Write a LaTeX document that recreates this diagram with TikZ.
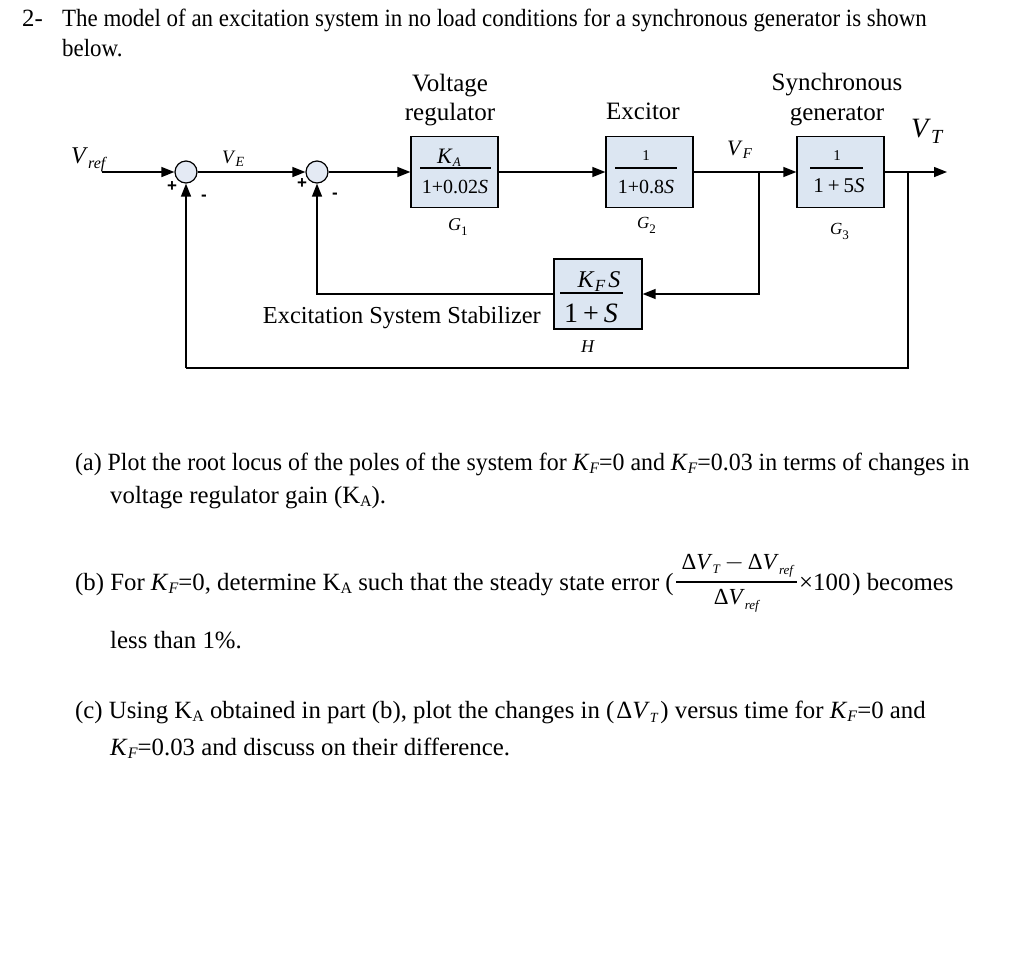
\documentclass[tikz,border=0pt]{standalone}
\usepackage{fontspec}
\usepackage{graphicx}
\setmainfont{Liberation Serif}
\newfontfamily\sansb{Liberation Sans}[BoldFont={Liberation Sans Bold}]
\usetikzlibrary{arrows.meta}
\definecolor{boxblue}{RGB}{220,230,242}
\definecolor{sumblue}{RGB}{228,234,244}
\newcommand{\fs}[1]{\fontsize{#1}{#1}\selectfont}
\newcommand{\Kit}[1]{\textit{K}\raisebox{-3pt}{\fs{16}\textit{#1}}}
\newcommand{\Kup}[1]{K\raisebox{-3pt}{\fs{16}#1}}
\begin{document}
\begin{tikzpicture}[x=1pt,y=-1pt,
  blk/.style={draw, fill=boxblue, line width=1.3pt, minimum width=87pt, minimum height=71pt, inner sep=0pt},
  sumc/.style={circle, draw, fill=sumblue, line width=1.2pt, minimum size=22pt, inner sep=0pt},
  arr/.style={-{Triangle[length=13pt,width=10pt]}},
  wire/.style={line width=1.4pt},
  body/.style={anchor=base west, inner sep=0pt, font=\fs{24.8}},
  lbl/.style={anchor=base, inner sep=0pt, font=\fs{25}},
  sign/.style={inner sep=0pt, font=\sansb\bfseries\fs{17}},
  bar/.style={line width=1.1pt},
]
\useasboundingbox (0,0) rectangle (1024,962);
\fill[white] (0,0) rectangle (1024,962);

% ---------- header text ----------
\node[body] (t0) at (22,26) {2-};
\node[body] (t1) at (62,26) {\scalebox{0.925}[1]{The model of an excitation system in no load conditions for a synchronous generator is shown}};
\node[body] (t2) at (62,56) {\scalebox{0.925}[1]{below.}};

% ---------- block labels ----------
\node[lbl] (lv1) at (450,91) {Voltage};
\node[lbl] (lv2) at (450,120) {regulator};
\node[lbl] (lex) at (643,119) {Excitor};
\node[lbl] (ls1) at (837,90) {Synchronous};
\node[lbl] (ls2) at (837,120) {generator};

% ---------- blocks ----------
\node[sumc] (s1) at (186,172) {};
\node[sumc] (s2) at (317,172) {};
\node[blk] (G1) at (454.5,172) {};
\node[blk] (G2) at (649.5,172) {};
\node[blk] (G3) at (840.5,172) {};
\node[blk, minimum width=88pt, minimum height=70pt] (H) at (598,294) {};

\coordinate (vin) at (102,172);
\coordinate (bF) at (759,172);
\coordinate (bT) at (908,172);
\coordinate (out) at (947,172);
\coordinate (bot) at (186,368);

% ---------- forward path ----------
\draw[wire,arr] (vin) -- (s1);
\draw[wire,arr] (s1) -- (s2);
\draw[wire,arr] (s2) -- (G1);
\draw[wire,arr] (G1) -- (G2);
\draw[wire,arr] (G2) -- (G3);
\draw[wire,arr] (G3) -- (out);
% ---------- feedback paths ----------
\draw[wire,arr] (bF) |- (H.east);
\draw[wire,arr] (H.west) -| (s2.south);
\draw[wire] (bT) |- (bot);
\draw[wire,arr] (bot) -- (s1.south);

% ---------- signs ----------
\node[sign] (p1) at (172,187) {+};
\node[sign] (m1) at (204,198) {-};
\node[sign] (p2) at (302,184) {+};
\node[sign] (m2) at (335,196) {-};

% ---------- signal labels ----------
\node[anchor=base west, inner sep=0pt, font=\fs{24}] (vref) at (71,163) {\textit{V}\raisebox{-5pt}{\fs{16}\textit{ref}}};
\node[anchor=base west, inner sep=0pt, font=\fs{19}] (ve) at (222,163) {\textit{V}\raisebox{-3pt}{\fs{14}\textit{E}}};
\node[anchor=base west, inner sep=0pt, font=\fs{22}] (vf) at (727,155) {\textit{V}\raisebox{-3pt}{\fs{15}\textit{F}}};
\node[anchor=base west, inner sep=0pt, font=\fs{28}] (vt) at (911,137) {\textit{V}\raisebox{-6pt}{\fs{20}\textit{T}}};

% ---------- fractions in blocks ----------
\node[anchor=base, inner sep=0pt, font=\fs{22}] (n1) at (449,163) {\textit{K}\raisebox{-3pt}{\fs{13}\textit{A}}};
\draw[bar] (420,168) -- (491,168);
\node[anchor=base, inner sep=0pt, font=\fs{20}] (d1) at (455,193) {1+0.02\textit{S}};

\node[anchor=base, inner sep=0pt, font=\fs{15}] (n2) at (646,160) {1};
\draw[bar] (615,168) -- (677,168);
\node[anchor=base, inner sep=0pt, font=\fs{20}] (d2) at (646,193) {1+0.8\textit{S}};

\node[anchor=base, inner sep=0pt, font=\fs{15}] (n3) at (837,160) {1};
\draw[bar] (810,168) -- (863,168);
\node[anchor=base, inner sep=0pt, font=\fs{21}] (d3) at (839,192) {1\kern4pt+\kern4pt5\textit{S}};

\node[anchor=base, inner sep=0pt, font=\fs{24}] (nh) at (599,287) {\textit{K}\raisebox{-4pt}{\fs{17}\textit{F}}\kern3pt\textit{S}};
\draw[bar] (560,293) -- (623,293);
\node[anchor=base, inner sep=0pt, font=\fs{28}] (dh) at (591,322) {1\kern5pt+\kern5pt\textit{S}};

% ---------- block names ----------
\node[anchor=base west, inner sep=0pt, font=\fs{18}] (g1) at (448,230) {\textit{G}\raisebox{-5pt}{\fs{13}1}};
\node[anchor=base west, inner sep=0pt, font=\fs{17}] (g2) at (637,228) {\textit{G}\raisebox{-5pt}{\fs{13}2}};
\node[anchor=base west, inner sep=0pt, font=\fs{17}] (g3) at (830,234) {\textit{G}\raisebox{-5pt}{\fs{13}3}};
\node[anchor=base, inner sep=0pt, font=\fs{18}] (hl) at (588,352) {\textit{H}};
\node[anchor=base east, inner sep=0pt, font=\fs{24.4}] (ess) at (541,323) {Excitation System Stabilizer};

% ---------- questions ----------
\node[body] (a1) at (75,470) {\scalebox{0.963}[1]{(a) Plot the root locus of the poles of the system for \Kit{F}=0 and \Kit{F}=0.03 in terms of changes in}};
\node[body] (a2) at (110,503) {voltage regulator gain (\Kup{A}).};

\node[body] (b1) at (75,590) {(b) For \Kit{F}=0, determine \Kup{A} such that the steady state error (};
\node[anchor=base, inner sep=0pt, font=\fs{23}] (bn) at (738,569) {Δ\textit{V}\raisebox{-4pt}{\fs{13}\textit{T}}\kern4pt$-$\kern4ptΔ\textit{V}\raisebox{-5pt}{\fs{13}\textit{ref}}};
\draw[bar] (676,582) -- (797,582);
\node[anchor=base, inner sep=0pt, font=\fs{23}] (bd) at (737,604) {Δ\textit{V}\raisebox{-5pt}{\fs{13}\textit{ref}}};
\node[body] (b2) at (799,590) {×100\kern2pt) becomes};
\node[body] (b3) at (110,648) {less than 1\%.};

\node[body] (c1) at (75,718) {(c) Using \Kup{A} obtained in part (b), plot the changes in (\kern2ptΔ\textit{V}\raisebox{-4pt}{\fs{14}\textit{T}}\kern2pt) versus time for \Kit{F}=0 and};
\node[body] (c2) at (110,755) {\Kit{F}=0.03 and discuss on their difference.};
\end{tikzpicture}
\end{document}
